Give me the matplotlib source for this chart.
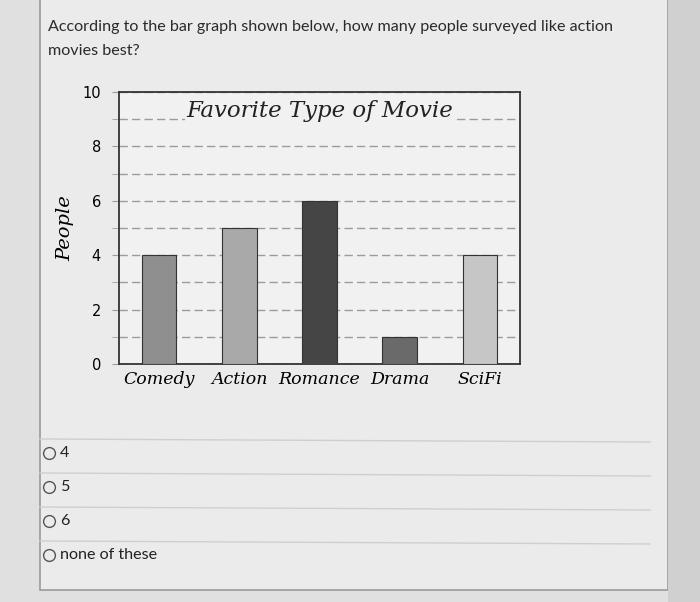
import matplotlib.pyplot as plt
from matplotlib.patches import Rectangle
from matplotlib.lines import Line2D

# данные графика
categories = ['Comedy', 'Action', 'Romance', 'Drama', 'SciFi']
people = [4, 5, 6, 1, 4]
bar_colors = ['#8f8f8f', '#a9a9a9', '#454545', '#6a6a6a', '#c6c6c6']
yticks = [0, 2, 4, 6, 8, 10]
options = ['4', '5', '6', 'none of these']
question = ['According to the bar graph shown below, how many people surveyed like action',
            'movies best?']

W, H = 700, 602
fig = plt.figure(figsize=(W / 100, H / 100), dpi=100)
fig.patch.set_facecolor('#e0e0e0')

# панель вопроса
bg = fig.add_axes([0, 0, 1, 1])
bg.set_xlim(0, W)
bg.set_ylim(H, 0)
bg.axis('off')
bg.add_patch(Rectangle((40, -5), 628, 595, facecolor='#ebebeb', edgecolor='#9a9a9a', lw=1.2))
bg.add_patch(Rectangle((668, 0), 32, H, facecolor='#d0d0d0', edgecolor='none'))

bg.text(48, 27, question[0], fontsize=11.6, color='#2a2a2a', family='Lato', va='center')
bg.text(48, 51, question[1], fontsize=11.6, color='#2a2a2a', family='Lato', va='center')

for i, opt in enumerate(options):
    y = 453 + i * 34
    bg.add_line(Line2D([40, 650], [y - 14, y - 11], color='#cfcfcf', lw=1))
    bg.plot(49, y, 'o', ms=8.5, mfc='none', mec='#555555', mew=1)
    bg.text(60, y, opt, fontsize=11.6, color='#222222', family='Lato', va='center')

# график
ax = fig.add_axes([119 / W, 1 - 364 / H, 401 / W, 272 / H])
ax.set_facecolor('#f1f1f1')
x = range(len(categories))
ax.bar(x, people, width=0.43, color=bar_colors, edgecolor='#333333', linewidth=0.8, zorder=3)
ax.set_xlim(-0.5, len(categories) - 0.5)
ax.set_ylim(0, 10)
ax.set_yticks(yticks)
ax.set_yticks(range(0, 11, 1), minor=True)
ax.grid(axis='y', which='both', linestyle=(0, (6, 3)), color='#9c9c9c', lw=1, zorder=0)
ax.tick_params(axis='y', which='both', length=5, color='#9c9c9c', pad=8, labelsize=10.5)
ax.tick_params(axis='x', length=0, pad=5)
ax.set_xticks(list(x))
ax.set_xticklabels(categories, family='DejaVu Serif', style='italic', fontsize=12.5)
for s in ax.spines.values():
    s.set_color('#333333')
    s.set_linewidth(1.3)
ax.set_ylabel('People', family='DejaVu Serif', style='italic', fontsize=14, labelpad=6)
ax.text(0.5, 0.93, 'Favorite Type of Movie', transform=ax.transAxes, ha='center', va='center',
        family='DejaVu Serif', style='italic', fontsize=16.5, color='#222222',
        bbox=dict(facecolor='#f1f1f1', edgecolor='none', pad=1), zorder=4)

plt.savefig('out.png', dpi=100)
